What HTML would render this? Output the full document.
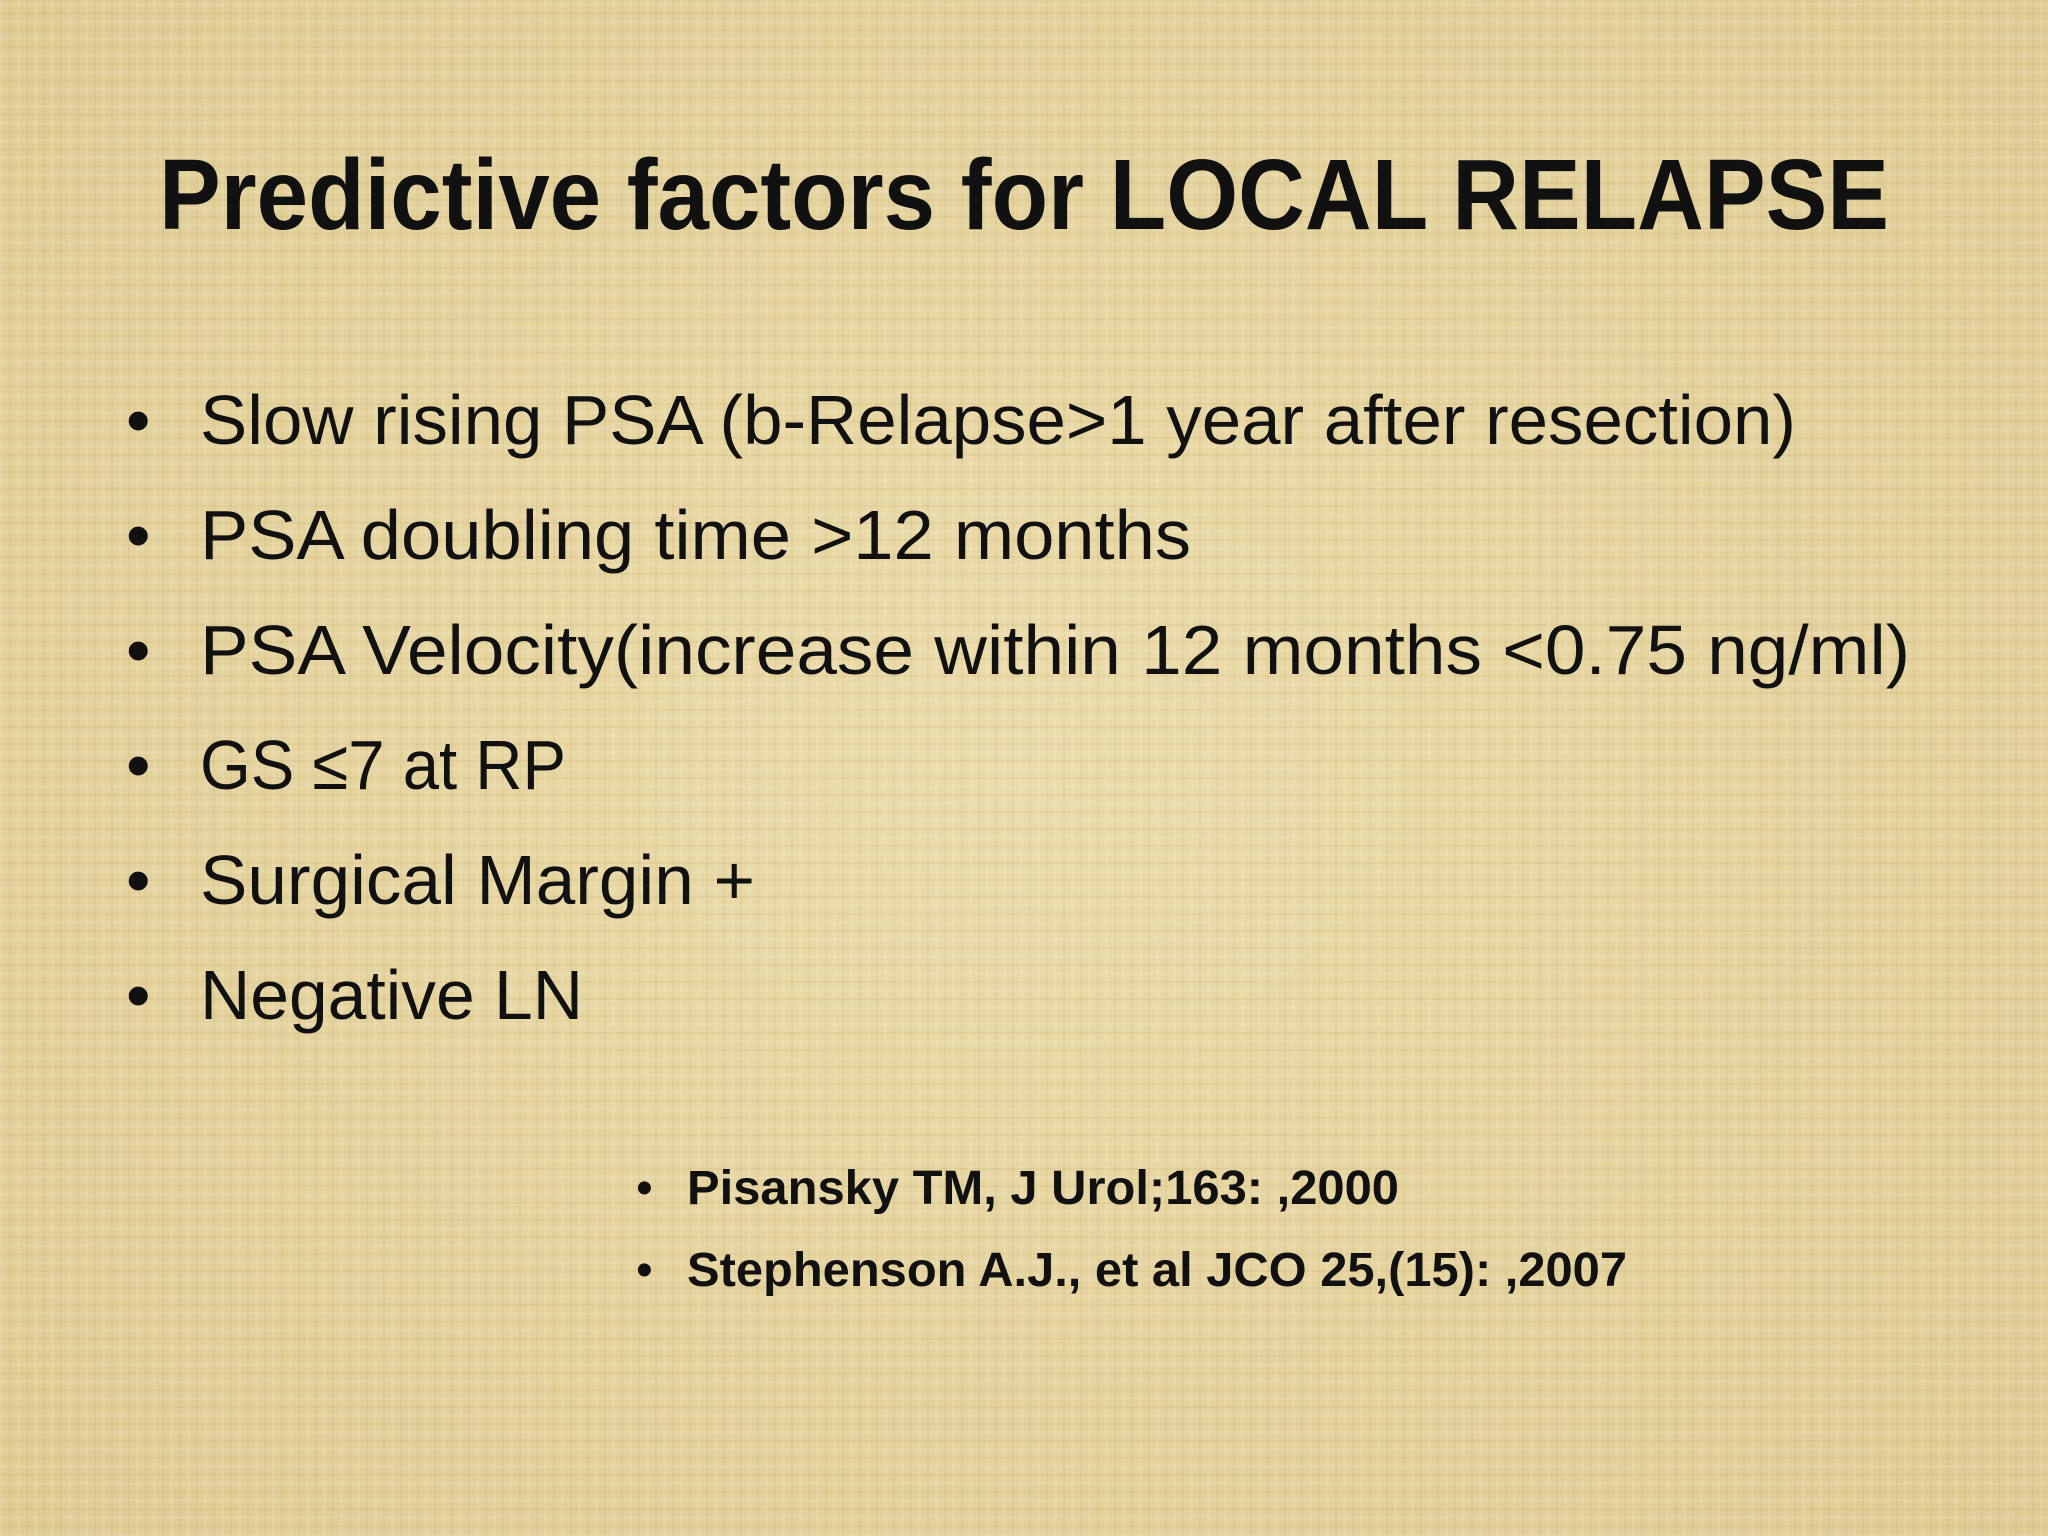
<!DOCTYPE html>
<html>
<head>
<meta charset="utf-8">
<style>
html,body{margin:0;padding:0;}
body{width:2048px;height:1536px;overflow:hidden;
background-color:#e5d39d;
background-image:
repeating-linear-gradient(90deg, rgba(255,255,255,0.10) 0 3px, rgba(0,0,0,0) 3px 9px, rgba(150,120,50,0.08) 9px 11px, rgba(0,0,0,0) 11px 17px),
repeating-linear-gradient(0deg, rgba(255,255,255,0.10) 0 3px, rgba(0,0,0,0) 3px 9px, rgba(150,120,50,0.08) 9px 11px, rgba(0,0,0,0) 11px 17px),
radial-gradient(ellipse at 50% 50%, rgba(255,245,210,0.25), rgba(180,150,80,0.12));
}
svg{position:absolute;left:0;top:0;}
text{fill:#111;}
</style>
</head>
<body>
<svg width="2048" height="1536">
<text x="1024" y="229" text-anchor="middle" font-family="Liberation Sans, sans-serif" font-weight="bold" font-size="100" textLength="1730" lengthAdjust="spacingAndGlyphs">Predictive factors for LOCAL RELAPSE</text>
<g font-family="Liberation Sans, sans-serif" font-size="70">
<text x="126" y="444">•</text>
<text x="200" y="444" textLength="1596" lengthAdjust="spacingAndGlyphs">Slow rising PSA (b-Relapse&gt;1 year after resection)</text>
<text x="126" y="559">•</text>
<text x="200" y="559" textLength="991" lengthAdjust="spacingAndGlyphs">PSA doubling time &gt;12 months</text>
<text x="126" y="674">•</text>
<text x="200" y="674" textLength="1710" lengthAdjust="spacingAndGlyphs">PSA Velocity(increase within 12 months &lt;0.75 ng/ml)</text>
<text x="126" y="789">•</text>
<text x="200" y="789" textLength="366" lengthAdjust="spacingAndGlyphs">GS ≤7 at RP</text>
<text x="126" y="904">•</text>
<text x="200" y="904" textLength="555" lengthAdjust="spacingAndGlyphs">Surgical Margin +</text>
<text x="126" y="1019">•</text>
<text x="200" y="1019" textLength="383" lengthAdjust="spacingAndGlyphs">Negative LN</text>
</g>
<g font-family="Liberation Sans, sans-serif" font-size="48" font-weight="bold">
<text x="636" y="1204" font-weight="normal">•</text>
<text x="687" y="1204" textLength="712" lengthAdjust="spacingAndGlyphs">Pisansky TM, J Urol;163: ,2000</text>
<text x="636" y="1286" font-weight="normal">•</text>
<text x="687" y="1286" textLength="940" lengthAdjust="spacingAndGlyphs">Stephenson A.J., et al JCO 25,(15): ,2007</text>
</g>
</svg>
</body>
</html>
